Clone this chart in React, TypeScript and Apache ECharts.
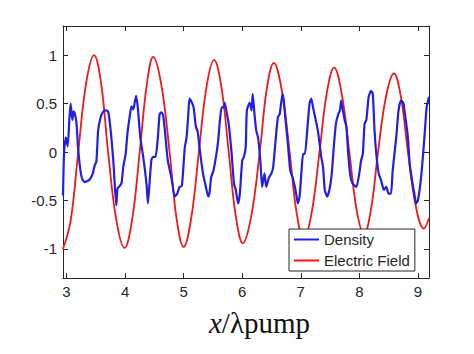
import React, { useEffect, useRef } from "react";
import * as echarts from "echarts";

const xTicks = [3, 4, 5, 6, 7, 8, 9];
const yTicks = [-1, -0.5, 0, 0.5, 1];

const fieldX = [2.94, 3.07, 3.2, 3.335, 3.47, 3.59, 3.71, 3.85, 3.99, 4.12, 4.25, 4.37, 4.48, 4.62, 4.76, 4.88, 5.0, 5.13, 5.26, 5.39, 5.52, 5.645, 5.77, 5.89, 6.01, 6.155, 6.3, 6.42, 6.54, 6.675, 6.81, 6.93, 7.05, 7.185, 7.32, 7.445, 7.57, 7.7, 7.83, 7.955, 8.08, 8.2, 8.32, 8.455, 8.59, 8.71, 8.83, 8.965, 9.1, 9.19];
const fieldY = [-1.0, -0.71, 0, 0.71, 1.0, 0.71, 0, -0.7, -0.99, -0.7, 0, 0.69, 0.98, 0.69, 0, -0.69, -0.98, -0.68, 0, 0.67, 0.95, 0.67, 0, -0.66, -0.94, -0.66, 0, 0.65, 0.92, 0.64, 0, -0.63, -0.9, -0.63, 0, 0.61, 0.87, 0.6, 0, -0.6, -0.85, -0.59, 0, 0.57, 0.81, 0.57, 0, -0.56, -0.79, -0.68];

const densityX = [2.94, 2.96, 2.99, 3.02, 3.05, 3.07, 3.1, 3.12, 3.14, 3.17, 3.2, 3.24, 3.27, 3.31, 3.36, 3.4, 3.45, 3.48, 3.51, 3.54, 3.58, 3.62, 3.66, 3.71, 3.74, 3.77, 3.8, 3.82, 3.85, 3.87, 3.91, 3.94, 3.97, 4.01, 4.04, 4.08, 4.11, 4.14, 4.17, 4.19, 4.22, 4.26, 4.31, 4.34, 4.37, 4.39, 4.42, 4.45, 4.48, 4.52, 4.56, 4.59, 4.62, 4.65, 4.68, 4.73, 4.79, 4.85, 4.89, 4.93, 4.97, 5.02, 5.05, 5.08, 5.1, 5.14, 5.17, 5.21, 5.24, 5.27, 5.33, 5.38, 5.42, 5.44, 5.47, 5.51, 5.56, 5.59, 5.62, 5.65, 5.68, 5.7, 5.74, 5.77, 5.82, 5.86, 5.89, 5.93, 5.96, 6.0, 6.03, 6.06, 6.08, 6.13, 6.16, 6.18, 6.21, 6.24, 6.27, 6.31, 6.34, 6.38, 6.41, 6.46, 6.5, 6.53, 6.57, 6.61, 6.64, 6.69, 6.71, 6.74, 6.78, 6.82, 6.86, 6.9, 6.93, 6.95, 6.98, 7.01, 7.04, 7.07, 7.11, 7.15, 7.18, 7.21, 7.27, 7.3, 7.35, 7.38, 7.41, 7.45, 7.49, 7.53, 7.56, 7.6, 7.64, 7.67, 7.69, 7.72, 7.75, 7.78, 7.81, 7.85, 7.89, 7.95, 8.0, 8.03, 8.06, 8.09, 8.12, 8.16, 8.2, 8.23, 8.26, 8.29, 8.33, 8.37, 8.42, 8.46, 8.5, 8.54, 8.57, 8.63, 8.67, 8.71, 8.75, 8.78, 8.83, 8.86, 8.9, 8.94, 8.97, 9.0, 9.05, 9.09, 9.12, 9.15, 9.19];
const densityY = [-0.45, 0.02, 0.15, 0.06, 0.35, 0.5, 0.33, 0.42, 0.4, 0.3, 0.02, -0.2, -0.28, -0.31, -0.3, -0.28, -0.22, -0.14, -0.1, 0.22, 0.35, 0.41, 0.43, 0.42, 0.3, 0.12, -0.1, -0.3, -0.55, -0.38, -0.35, -0.32, -0.15, -0.02, 0.19, 0.37, 0.47, 0.44, 0.53, 0.58, 0.44, 0.15, -0.05, -0.19, -0.36, -0.53, -0.3, -0.08, -0.05, -0.05, 0.15, 0.39, 0.41, 0.38, 0.22, -0.09, -0.26, -0.46, -0.43, -0.36, -0.35, 0.05, 0.15, 0.39, 0.55, 0.51, 0.46, 0.26, 0.21, 0.05, -0.22, -0.36, -0.46, -0.43, -0.26, -0.19, -0.02, 0.12, 0.33, 0.46, 0.46, 0.51, 0.39, 0.29, -0.02, -0.33, -0.39, -0.53, -0.43, -0.09, -0.05, 0.05, 0.43, 0.51, 0.43, 0.6, 0.39, 0.22, 0.15, -0.09, -0.36, -0.22, -0.36, -0.26, -0.22, -0.15, 0.12, 0.36, 0.39, 0.6, 0.53, 0.33, 0.09, -0.19, -0.26, -0.36, -0.46, -0.53, -0.46, -0.22, -0.02, -0.02, 0.22, 0.5, 0.55, 0.46, 0.29, 0.19, -0.05, -0.15, -0.39, -0.46, -0.39, -0.22, 0.02, 0.29, 0.39, 0.43, 0.53, 0.43, 0.33, 0.26, -0.02, -0.26, -0.33, -0.36, -0.22, -0.09, -0.02, 0.29, 0.33, 0.57, 0.63, 0.6, 0.22, -0.02, -0.22, -0.29, -0.39, -0.36, -0.43, -0.43, -0.19, 0.15, 0.43, 0.53, 0.51, 0.39, 0.15, -0.12, -0.29, -0.43, -0.53, -0.5, -0.29, -0.02, 0.22, 0.46, 0.57];

const AXIS = "#262626";
const SANS = "'Liberation Sans', Arial, sans-serif";

export default function App() {
  const ref = useRef<HTMLDivElement>(null);
  useEffect(() => {
    if (!ref.current) return;
    const chart = echarts.init(ref.current, undefined, { renderer: "svg" });
    const zip = (xs: number[], ys: number[]) => xs.map((x, i) => [x, ys[i]]);
    const xBase = {
      type: "value" as const,
      min: 2.94,
      max: 9.19,
      splitLine: { show: false },
      axisLine: { show: true, onZero: false, lineStyle: { color: AXIS, width: 1 } },
      axisTick: { show: true, inside: true, length: 5, customValues: xTicks, lineStyle: { color: AXIS } },
    };
    const yBase = {
      type: "value" as const,
      min: -1.3,
      max: 1.3,
      splitLine: { show: false },
      axisLine: { show: true, onZero: false, lineStyle: { color: AXIS, width: 1 } },
      axisTick: { show: true, inside: true, length: 5, customValues: yTicks, lineStyle: { color: AXIS } },
    };
    chart.setOption({
      animation: false,
      backgroundColor: "#ffffff",
      grid: { left: 63, top: 26, width: 366, height: 252, containLabel: false },
      xAxis: [
        {
          ...xBase,
          position: "bottom",
          axisLabel: { show: true, customValues: xTicks, fontSize: 15, color: AXIS, fontFamily: SANS, margin: 6 },
        },
        { ...xBase, position: "top", axisLabel: { show: false } },
      ],
      yAxis: [
        {
          ...yBase,
          position: "left",
          axisLabel: { show: true, customValues: yTicks, fontSize: 15, color: AXIS, fontFamily: SANS, margin: 6 },
        },
        { ...yBase, position: "right", axisLabel: { show: false } },
      ],
      legend: {
        orient: "vertical",
        left: 289,
        top: 229,
        padding: [3, 5, 3, 5],
        itemGap: 6,
        itemWidth: 25,
        itemHeight: 2,
        icon: "rect",
        backgroundColor: "#ffffff",
        borderColor: AXIS,
        borderWidth: 1,
        borderRadius: 0,
        textStyle: { fontSize: 15, color: AXIS, fontFamily: SANS },
        data: ["Density", "Electric Field"],
      },
      series: [
        {
          name: "Density",
          type: "line",
          data: zip(densityX, densityY),
          symbol: "none",
          smooth: 0.2,
          lineStyle: { color: "#1f1fe6", width: 2.2 },
          itemStyle: { color: "#1f1fe6" },
          z: 3,
        },
        {
          name: "Electric Field",
          type: "line",
          data: zip(fieldX, fieldY),
          symbol: "none",
          smooth: 0.4,
          lineStyle: { color: "#f01818", width: 1.8 },
          itemStyle: { color: "#f01818" },
          z: 2,
        },
      ],
      graphic: [
        {
          type: "text",
          left: 209,
          top: 308,
          style: {
            text: "{i|x}{r|/λpump}",
            rich: {
              i: { fontStyle: "italic", fontFamily: "'Liberation Serif', serif", fontSize: 29, fill: "#111" },
              r: { fontFamily: "'Liberation Serif', serif", fontSize: 29, fill: "#111" },
            },
          },
        },
      ],
    });
    return () => chart.dispose();
  }, []);
  return (
    <div
      ref={ref}
      style={{ position: "fixed", left: 0, top: 0, width: 474, height: 354, background: "#fff" }}
    />
  );
}
